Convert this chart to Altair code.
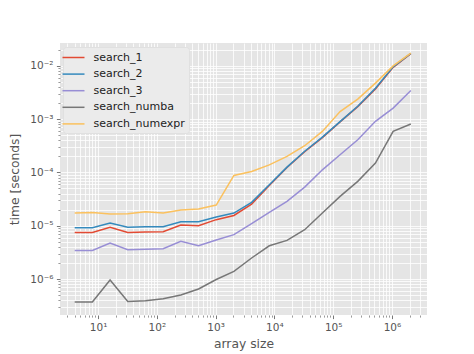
import altair as alt
import pandas as pd

sizes = [2**k for k in range(2, 22)]
series = ["search_1", "search_2", "search_3", "search_numba", "search_numexpr"]
colors = ["#E24A33", "#348ABD", "#988ED5", "#777777", "#FBC15E"]

search_1 = [7.5e-6, 7.5e-6, 9.3e-6, 7.5e-6, 7.6e-6, 7.7e-6, 1.03e-5, 1.0e-5, 1.3e-5, 1.56e-5,
            2.55e-5, 5.7e-5, 1.24e-4, 2.45e-4, 4.5e-4, 8.9e-4, 1.72e-3, 3.7e-3, 9.4e-3, 1.7e-2]
search_2 = [9.2e-6, 9.2e-6, 1.12e-5, 9.4e-6, 9.6e-6, 9.6e-6, 1.19e-5, 1.19e-5, 1.46e-5, 1.73e-5,
            2.74e-5, 5.9e-5, 1.26e-4, 2.5e-4, 4.6e-4, 9.0e-4, 1.75e-3, 3.8e-3, 9.6e-3, 1.72e-2]
search_3 = [3.44e-6, 3.44e-6, 4.73e-6, 3.55e-6, 3.6e-6, 3.7e-6, 5.08e-6, 4.22e-6, 5.4e-6, 6.8e-6,
            1.1e-5, 1.78e-5, 2.86e-5, 5.3e-5, 1.12e-4, 2.15e-4, 4.1e-4, 9.1e-4, 1.61e-3, 3.45e-3]
search_numba = [3.7e-7, 3.7e-7, 9.6e-7, 3.8e-7, 3.9e-7, 4.27e-7, 5.0e-7, 6.5e-7, 9.8e-7, 1.39e-6,
                2.48e-6, 4.2e-6, 5.3e-6, 8.4e-6, 1.73e-5, 3.55e-5, 6.8e-5, 1.5e-4, 5.9e-4, 8.1e-4]
search_numexpr = [1.73e-5, 1.78e-5, 1.66e-5, 1.68e-5, 1.83e-5, 1.73e-5, 1.97e-5, 2.06e-5, 2.44e-5, 8.8e-5,
                  1.04e-4, 1.39e-4, 2.0e-4, 3.17e-4, 5.9e-4, 1.39e-3, 2.38e-3, 4.75e-3, 1.0e-2, 1.74e-2]

x_domain = [2.25, 3.95e6]
y_domain = [2.11e-7, 2.69e-2]

rows = []
for name, vals in zip(series, [search_1, search_2, search_3, search_numba, search_numexpr]):
    for s, v in zip(sizes, vals):
        rows.append({"size": s, "time": v, "method": name})
df = pd.DataFrame(rows)

x_ticks = [m * 10**k for k in range(0, 7) for m in range(1, 10)
           if x_domain[0] <= m * 10**k <= x_domain[1]]
y_ticks = [m * 10.0**k for k in range(-7, -1) for m in range(1, 10)
           if y_domain[0] <= m * 10.0**k <= y_domain[1]]

lg = "log(datum.value)/LN10"
is_major = f"abs({lg} - round({lg})) < 0.001"
sup = "['\u2070','\u00b9','\u00b2','\u00b3','\u2074','\u2075','\u2076','\u2077','\u2078','\u2079']"
label_expr = (f"({is_major}) ? '10' + (round({lg}) < 0 ? '\u207b' : '') + "
              f"{sup}[abs(round({lg}))] : ''")


def make_axis(title, values, title_padding):
    return alt.Axis(
        title=title,
        values=values,
        labelExpr=label_expr,
        labelOverlap=False,
        labelFlush=False,
        labelBound=False,
        grid=True,
        gridColor="white",
        gridWidth=0.8,
        tickColor="#555555",
        tickSize={"condition": {"test": is_major, "value": 3.6}, "value": 2.1},
        tickWidth={"condition": {"test": is_major, "value": 0.8}, "value": 0.6},
        labelPadding=3.5,
        titlePadding=title_padding,
        domain=False,
    )


chart = (
    alt.Chart(df)
    .mark_line(strokeWidth=1.5, clip=True)
    .encode(
        x=alt.X("size:Q", scale=alt.Scale(type="log", domain=x_domain, nice=False),
                axis=make_axis("array size", x_ticks, 5)),
        y=alt.Y("time:Q", scale=alt.Scale(type="log", domain=y_domain, nice=False),
                axis=make_axis("time [seconds]", y_ticks, 8)),
        color=alt.Color(
            "method:N",
            scale=alt.Scale(domain=series, range=colors),
            legend=alt.Legend(
                title=None,
                orient="none",
                legendX=3,
                legendY=4,
                symbolType="M-2,0H2",
                symbolSize=121,
                symbolStrokeWidth=1.5,
                labelOffset=13.5,
                labelFontSize=11,
                labelFont="DejaVu Sans",
                labelColor="#222222",
                rowPadding=4.6,
                padding=4,
                fillColor="#EBEBEB",
                strokeColor="#E0E0E0",
                cornerRadius=3,
            ),
        ),
        order=alt.Order("method:N"),
    )
    .properties(
        width=367,
        height=272,
        autosize=alt.AutoSizeParams(type="none"),
        padding={"left": 60, "top": 43, "right": 47, "bottom": 39},
        background="white",
    )
    .configure_view(fill="#E5E5E5", strokeWidth=0)
    .configure_axis(
        labelFont="DejaVu Sans",
        labelFontSize=10.5,
        labelColor="#555555",
        titleFont="DejaVu Sans",
        titleFontSize=12.3,
        titleFontWeight="normal",
        titleColor="#555555",
    )
)

chart.save("out.html", embed_options={"renderer": "svg", "actions": False})
